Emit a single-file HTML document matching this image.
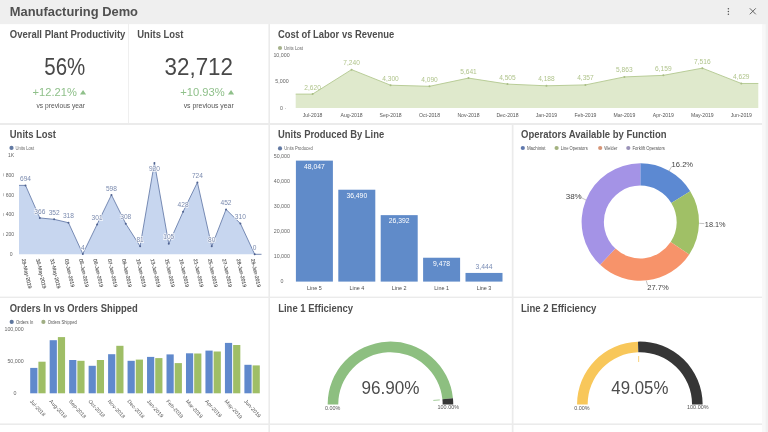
<!DOCTYPE html>
<html><head><meta charset="utf-8"><style>
html,body{margin:0;padding:0;width:768px;height:432px;overflow:hidden;background:#ebebeb;}
svg{display:block;will-change:transform;}
text{font-family:"Liberation Sans", sans-serif;}
</style></head><body>
<svg width="768" height="432" viewBox="0 0 768 432" font-family='"Liberation Sans", sans-serif'>
<rect x="0.00" y="0.00" width="768.00" height="432.00" fill="#ebebeb" />
<rect x="0.00" y="0.00" width="768.00" height="24.10" fill="#efefef" />
<text x="9.80" y="16.10" font-size="13.6" fill="#505050" font-weight="bold" textLength="128.20" lengthAdjust="spacingAndGlyphs">Manufacturing Demo</text>
<circle cx="728.4" cy="8.8" r="0.75" fill="#555"/>
<circle cx="728.4" cy="11.5" r="0.75" fill="#555"/>
<circle cx="728.4" cy="14.2" r="0.75" fill="#555"/>
<path d="M749.8 8.3 L755.8 14.3 M755.8 8.3 L749.8 14.3" stroke="#555" stroke-width="0.9"/>
<rect x="0.00" y="24.10" width="128.20" height="98.90" fill="#fff" />
<rect x="129.00" y="24.10" width="139.40" height="98.90" fill="#fff" />
<rect x="270.00" y="24.10" width="493.00" height="98.90" fill="#fff" />
<rect x="0.00" y="125.00" width="268.40" height="171.60" fill="#fff" />
<rect x="270.00" y="125.00" width="241.80" height="171.60" fill="#fff" />
<rect x="513.50" y="125.00" width="249.50" height="171.60" fill="#fff" />
<rect x="0.00" y="298.00" width="268.40" height="125.40" fill="#fff" />
<rect x="270.00" y="298.00" width="241.80" height="125.40" fill="#fff" />
<rect x="513.50" y="298.00" width="249.50" height="125.40" fill="#fff" />
<rect x="0.00" y="425.00" width="268.40" height="10.00" fill="#fff" />
<rect x="270.00" y="425.00" width="241.80" height="10.00" fill="#fff" />
<rect x="513.50" y="425.00" width="249.50" height="10.00" fill="#fff" />
<rect x="762.00" y="24.10" width="6.00" height="410.00" fill="#f8f8f8" />
<rect x="765.60" y="24.10" width="2.40" height="410.00" fill="#f0f0f0" />
<text x="9.80" y="37.80" font-size="10" fill="#4e4e4e" font-weight="bold" textLength="115.60" lengthAdjust="spacingAndGlyphs">Overall Plant Productivity</text>
<text x="137.30" y="37.80" font-size="10" fill="#4e4e4e" font-weight="bold" textLength="46.20" lengthAdjust="spacingAndGlyphs">Units Lost</text>
<text x="278.00" y="38.30" font-size="10" fill="#4e4e4e" font-weight="bold" textLength="116.30" lengthAdjust="spacingAndGlyphs">Cost of Labor vs Revenue</text>
<text x="44.30" y="74.80" font-size="24.3" fill="#484848" textLength="41.00" lengthAdjust="spacingAndGlyphs">56%</text>
<text x="32.60" y="95.60" font-size="11.5" fill="#8fc08a" textLength="44.20" lengthAdjust="spacingAndGlyphs">+12.21%</text>
<path d="M80 94.5 L83.05 90.1 L86.1 94.5 Z" fill="#8fc08a"/>
<text x="36.50" y="107.60" font-size="6.8" fill="#555" textLength="48.50" lengthAdjust="spacingAndGlyphs">vs previous year</text>
<text x="164.60" y="74.90" font-size="24.4" fill="#484848" textLength="68.40" lengthAdjust="spacingAndGlyphs">32,712</text>
<text x="180.20" y="95.60" font-size="11.5" fill="#8fc08a" textLength="44.50" lengthAdjust="spacingAndGlyphs">+10.93%</text>
<path d="M228 94.5 L231.05 90.1 L234.1 94.5 Z" fill="#8fc08a"/>
<text x="183.70" y="107.60" font-size="6.8" fill="#555" textLength="50.00" lengthAdjust="spacingAndGlyphs">vs previous year</text>
<circle cx="280" cy="48" r="2.1" fill="#a6b28c"/>
<text x="284.00" y="49.90" font-size="5" fill="#666" textLength="19.00" lengthAdjust="spacingAndGlyphs">Units Lost</text>
<text x="283.00" y="109.80" font-size="5.3" fill="#666" text-anchor="end">0</text>
<text x="288.60" y="83.30" font-size="5.3" fill="#666" text-anchor="end">5,000</text>
<text x="289.60" y="56.80" font-size="5.3" fill="#666" text-anchor="end">10,000</text>
<circle cx="285.6" cy="108.6" r="0.45" fill="#999"/>
<path d="M295.7,108.0 L295.7,94.11 L312.60,94.11 L351.57,69.63 L390.55,85.21 L429.52,86.32 L468.49,78.10 L507.46,84.12 L546.44,85.80 L585.41,84.91 L624.38,76.93 L663.35,75.36 L702.33,68.17 L741.30,83.47 L758.3,83.47 L758.3,108.0 Z" fill="#dfe9cc"/>
<path d="M295.7,94.11 L312.60,94.11 L351.57,69.63 L390.55,85.21 L429.52,86.32 L468.49,78.10 L507.46,84.12 L546.44,85.80 L585.41,84.91 L624.38,76.93 L663.35,75.36 L702.33,68.17 L741.30,83.47 L758.3,83.47" fill="none" stroke="#b9cd98" stroke-width="1"/>
<circle cx="312.60" cy="94.11" r="1" fill="#a9bd84"/>
<text x="312.60" y="89.61" font-size="6.6" fill="#b0c48c" text-anchor="middle">2,620</text>
<text x="312.60" y="116.70" font-size="5.1" fill="#555" text-anchor="middle">Jul-2018</text>
<circle cx="351.57" cy="69.63" r="1" fill="#a9bd84"/>
<text x="351.57" y="65.13" font-size="6.6" fill="#b0c48c" text-anchor="middle">7,240</text>
<text x="351.57" y="116.70" font-size="5.1" fill="#555" text-anchor="middle">Aug-2018</text>
<circle cx="390.55" cy="85.21" r="1" fill="#a9bd84"/>
<text x="390.55" y="80.71" font-size="6.6" fill="#b0c48c" text-anchor="middle">4,300</text>
<text x="390.55" y="116.70" font-size="5.1" fill="#555" text-anchor="middle">Sep-2018</text>
<circle cx="429.52" cy="86.32" r="1" fill="#a9bd84"/>
<text x="429.52" y="81.82" font-size="6.6" fill="#b0c48c" text-anchor="middle">4,090</text>
<text x="429.52" y="116.70" font-size="5.1" fill="#555" text-anchor="middle">Oct-2018</text>
<circle cx="468.49" cy="78.10" r="1" fill="#a9bd84"/>
<text x="468.49" y="73.60" font-size="6.6" fill="#b0c48c" text-anchor="middle">5,641</text>
<text x="468.49" y="116.70" font-size="5.1" fill="#555" text-anchor="middle">Nov-2018</text>
<circle cx="507.46" cy="84.12" r="1" fill="#a9bd84"/>
<text x="507.46" y="79.62" font-size="6.6" fill="#b0c48c" text-anchor="middle">4,505</text>
<text x="507.46" y="116.70" font-size="5.1" fill="#555" text-anchor="middle">Dec-2018</text>
<circle cx="546.44" cy="85.80" r="1" fill="#a9bd84"/>
<text x="546.44" y="81.30" font-size="6.6" fill="#b0c48c" text-anchor="middle">4,188</text>
<text x="546.44" y="116.70" font-size="5.1" fill="#555" text-anchor="middle">Jan-2019</text>
<circle cx="585.41" cy="84.91" r="1" fill="#a9bd84"/>
<text x="585.41" y="80.41" font-size="6.6" fill="#b0c48c" text-anchor="middle">4,357</text>
<text x="585.41" y="116.70" font-size="5.1" fill="#555" text-anchor="middle">Feb-2019</text>
<circle cx="624.38" cy="76.93" r="1" fill="#a9bd84"/>
<text x="624.38" y="72.43" font-size="6.6" fill="#b0c48c" text-anchor="middle">5,863</text>
<text x="624.38" y="116.70" font-size="5.1" fill="#555" text-anchor="middle">Mar-2019</text>
<circle cx="663.35" cy="75.36" r="1" fill="#a9bd84"/>
<text x="663.35" y="70.86" font-size="6.6" fill="#b0c48c" text-anchor="middle">6,159</text>
<text x="663.35" y="116.70" font-size="5.1" fill="#555" text-anchor="middle">Apr-2019</text>
<circle cx="702.33" cy="68.17" r="1" fill="#a9bd84"/>
<text x="702.33" y="63.67" font-size="6.6" fill="#b0c48c" text-anchor="middle">7,516</text>
<text x="702.33" y="116.70" font-size="5.1" fill="#555" text-anchor="middle">May-2019</text>
<circle cx="741.30" cy="83.47" r="1" fill="#a9bd84"/>
<text x="741.30" y="78.97" font-size="6.6" fill="#b0c48c" text-anchor="middle">4,629</text>
<text x="741.30" y="116.70" font-size="5.1" fill="#555" text-anchor="middle">Jun-2019</text>
<text x="9.80" y="138.00" font-size="10" fill="#4e4e4e" font-weight="bold" textLength="46.20" lengthAdjust="spacingAndGlyphs">Units Lost</text>
<text x="278.00" y="138.00" font-size="10" fill="#4e4e4e" font-weight="bold" textLength="106.20" lengthAdjust="spacingAndGlyphs">Units Produced By Line</text>
<text x="521.00" y="138.00" font-size="10" fill="#4e4e4e" font-weight="bold" textLength="145.60" lengthAdjust="spacingAndGlyphs">Operators Available by Function</text>
<circle cx="11.5" cy="147.9" r="2.1" fill="#637aa3"/>
<text x="15.60" y="149.60" font-size="4.8" fill="#666" textLength="18.50" lengthAdjust="spacingAndGlyphs">Units Lost</text>
<text x="14.20" y="156.80" font-size="5.1" fill="#666" text-anchor="end">1K</text>
<text x="14.20" y="176.66" font-size="5.1" fill="#666" text-anchor="end">800</text>
<rect x="3.40" y="173.36" width="0.60" height="3.00" fill="#999" />
<text x="14.20" y="196.52" font-size="5.1" fill="#666" text-anchor="end">600</text>
<rect x="3.40" y="193.22" width="0.60" height="3.00" fill="#999" />
<text x="14.20" y="216.38" font-size="5.1" fill="#666" text-anchor="end">400</text>
<rect x="3.40" y="213.08" width="0.60" height="3.00" fill="#999" />
<text x="14.20" y="236.24" font-size="5.1" fill="#666" text-anchor="end">200</text>
<rect x="3.40" y="232.94" width="0.60" height="3.00" fill="#999" />
<text x="12.60" y="256.10" font-size="5.1" fill="#666" text-anchor="end">0</text>
<path d="M19.0,254.3 L19.0,185.39 L25.50,185.39 L39.83,217.96 L54.15,219.35 L68.47,222.72 L82.80,253.90 L97.12,224.41 L111.45,194.92 L125.77,223.72 L140.10,246.26 L154.42,162.94 L168.75,243.87 L183.07,211.80 L197.40,182.41 L211.72,246.36 L226.05,209.42 L240.38,223.52 L254.70,254.30 L261.5,254.30 L261.5,254.3 Z" fill="#c7d6ef"/>
<path d="M19.0,185.39 L25.50,185.39 L39.83,217.96 L54.15,219.35 L68.47,222.72 L82.80,253.90 L97.12,224.41 L111.45,194.92 L125.77,223.72 L140.10,246.26 L154.42,162.94 L168.75,243.87 L183.07,211.80 L197.40,182.41 L211.72,246.36 L226.05,209.42 L240.38,223.52 L254.70,254.30 L261.5,254.30" fill="none" stroke="#6a7fab" stroke-width="0.9"/>
<circle cx="25.50" cy="185.39" r="1" fill="#4f6290"/>
<text x="25.50" y="180.99" font-size="6.6" fill="#7a8aae" text-anchor="middle" stroke="#fff" stroke-width="1.3" paint-order="stroke" stroke-opacity="0.85">694</text>
<circle cx="39.83" cy="217.96" r="1" fill="#4f6290"/>
<text x="39.83" y="213.56" font-size="6.6" fill="#7a8aae" text-anchor="middle" stroke="#fff" stroke-width="1.3" paint-order="stroke" stroke-opacity="0.85">366</text>
<circle cx="54.15" cy="219.35" r="1" fill="#4f6290"/>
<text x="54.15" y="214.95" font-size="6.6" fill="#7a8aae" text-anchor="middle" stroke="#fff" stroke-width="1.3" paint-order="stroke" stroke-opacity="0.85">352</text>
<circle cx="68.47" cy="222.72" r="1" fill="#4f6290"/>
<text x="68.47" y="218.32" font-size="6.6" fill="#7a8aae" text-anchor="middle" stroke="#fff" stroke-width="1.3" paint-order="stroke" stroke-opacity="0.85">318</text>
<circle cx="82.80" cy="253.90" r="1" fill="#4f6290"/>
<text x="82.80" y="249.50" font-size="6.6" fill="#7a8aae" text-anchor="middle" stroke="#fff" stroke-width="1.3" paint-order="stroke" stroke-opacity="0.85">4</text>
<circle cx="97.12" cy="224.41" r="1" fill="#4f6290"/>
<text x="97.12" y="220.01" font-size="6.6" fill="#7a8aae" text-anchor="middle" stroke="#fff" stroke-width="1.3" paint-order="stroke" stroke-opacity="0.85">301</text>
<circle cx="111.45" cy="194.92" r="1" fill="#4f6290"/>
<text x="111.45" y="190.52" font-size="6.6" fill="#7a8aae" text-anchor="middle" stroke="#fff" stroke-width="1.3" paint-order="stroke" stroke-opacity="0.85">598</text>
<circle cx="125.77" cy="223.72" r="1" fill="#4f6290"/>
<text x="125.77" y="219.32" font-size="6.6" fill="#7a8aae" text-anchor="middle" stroke="#fff" stroke-width="1.3" paint-order="stroke" stroke-opacity="0.85">308</text>
<circle cx="140.10" cy="246.26" r="1" fill="#4f6290"/>
<text x="140.10" y="241.86" font-size="6.6" fill="#7a8aae" text-anchor="middle" stroke="#fff" stroke-width="1.3" paint-order="stroke" stroke-opacity="0.85">81</text>
<circle cx="154.42" cy="162.94" r="1" fill="#4f6290"/>
<text x="154.42" y="171.44" font-size="6.6" fill="#7a8aae" text-anchor="middle" stroke="#fff" stroke-width="1.3" paint-order="stroke" stroke-opacity="0.85">920</text>
<circle cx="168.75" cy="243.87" r="1" fill="#4f6290"/>
<text x="168.75" y="239.47" font-size="6.6" fill="#7a8aae" text-anchor="middle" stroke="#fff" stroke-width="1.3" paint-order="stroke" stroke-opacity="0.85">105</text>
<circle cx="183.07" cy="211.80" r="1" fill="#4f6290"/>
<text x="183.07" y="207.40" font-size="6.6" fill="#7a8aae" text-anchor="middle" stroke="#fff" stroke-width="1.3" paint-order="stroke" stroke-opacity="0.85">428</text>
<circle cx="197.40" cy="182.41" r="1" fill="#4f6290"/>
<text x="197.40" y="178.01" font-size="6.6" fill="#7a8aae" text-anchor="middle" stroke="#fff" stroke-width="1.3" paint-order="stroke" stroke-opacity="0.85">724</text>
<circle cx="211.72" cy="246.36" r="1" fill="#4f6290"/>
<text x="211.72" y="241.96" font-size="6.6" fill="#7a8aae" text-anchor="middle" stroke="#fff" stroke-width="1.3" paint-order="stroke" stroke-opacity="0.85">80</text>
<circle cx="226.05" cy="209.42" r="1" fill="#4f6290"/>
<text x="226.05" y="205.02" font-size="6.6" fill="#7a8aae" text-anchor="middle" stroke="#fff" stroke-width="1.3" paint-order="stroke" stroke-opacity="0.85">452</text>
<circle cx="240.38" cy="223.52" r="1" fill="#4f6290"/>
<text x="240.38" y="219.12" font-size="6.6" fill="#7a8aae" text-anchor="middle" stroke="#fff" stroke-width="1.3" paint-order="stroke" stroke-opacity="0.85">310</text>
<circle cx="254.70" cy="254.30" r="1" fill="#4f6290"/>
<text x="254.70" y="249.90" font-size="6.6" fill="#7a8aae" text-anchor="middle" stroke="#fff" stroke-width="1.3" paint-order="stroke" stroke-opacity="0.85">0</text>
<text x="0" y="0" font-size="5.15" fill="#484848" stroke="#484848" stroke-width="0.08" transform="translate(21.70,259.30) rotate(77)">29-May-2019</text>
<text x="0" y="0" font-size="5.15" fill="#484848" stroke="#484848" stroke-width="0.08" transform="translate(36.03,259.30) rotate(77)">30-May-2019</text>
<text x="0" y="0" font-size="5.15" fill="#484848" stroke="#484848" stroke-width="0.08" transform="translate(50.35,259.30) rotate(77)">31-May-2019</text>
<text x="0" y="0" font-size="5.15" fill="#484848" stroke="#484848" stroke-width="0.08" transform="translate(64.67,259.30) rotate(77)">03-Jun-2019</text>
<text x="0" y="0" font-size="5.15" fill="#484848" stroke="#484848" stroke-width="0.08" transform="translate(79.00,259.30) rotate(77)">05-Jun-2019</text>
<text x="0" y="0" font-size="5.15" fill="#484848" stroke="#484848" stroke-width="0.08" transform="translate(93.33,259.30) rotate(77)">06-Jun-2019</text>
<text x="0" y="0" font-size="5.15" fill="#484848" stroke="#484848" stroke-width="0.08" transform="translate(107.65,259.30) rotate(77)">07-Jun-2019</text>
<text x="0" y="0" font-size="5.15" fill="#484848" stroke="#484848" stroke-width="0.08" transform="translate(121.97,259.30) rotate(77)">09-Jun-2019</text>
<text x="0" y="0" font-size="5.15" fill="#484848" stroke="#484848" stroke-width="0.08" transform="translate(136.30,259.30) rotate(77)">10-Jun-2019</text>
<text x="0" y="0" font-size="5.15" fill="#484848" stroke="#484848" stroke-width="0.08" transform="translate(150.62,259.30) rotate(77)">13-Jun-2019</text>
<text x="0" y="0" font-size="5.15" fill="#484848" stroke="#484848" stroke-width="0.08" transform="translate(164.95,259.30) rotate(77)">15-Jun-2019</text>
<text x="0" y="0" font-size="5.15" fill="#484848" stroke="#484848" stroke-width="0.08" transform="translate(179.27,259.30) rotate(77)">16-Jun-2019</text>
<text x="0" y="0" font-size="5.15" fill="#484848" stroke="#484848" stroke-width="0.08" transform="translate(193.60,259.30) rotate(77)">21-Jun-2019</text>
<text x="0" y="0" font-size="5.15" fill="#484848" stroke="#484848" stroke-width="0.08" transform="translate(207.92,259.30) rotate(77)">25-Jun-2019</text>
<text x="0" y="0" font-size="5.15" fill="#484848" stroke="#484848" stroke-width="0.08" transform="translate(222.25,259.30) rotate(77)">27-Jun-2019</text>
<text x="0" y="0" font-size="5.15" fill="#484848" stroke="#484848" stroke-width="0.08" transform="translate(236.57,259.30) rotate(77)">28-Jun-2019</text>
<text x="0" y="0" font-size="5.15" fill="#484848" stroke="#484848" stroke-width="0.08" transform="translate(250.90,259.30) rotate(77)">29-Jun-2019</text>
<circle cx="280" cy="148.4" r="2.1" fill="#637aa3"/>
<text x="284.30" y="150.10" font-size="4.8" fill="#666" textLength="28.50" lengthAdjust="spacingAndGlyphs">Units Produced</text>
<text x="283.40" y="283.40" font-size="5.3" fill="#666" text-anchor="end">0</text>
<text x="289.90" y="258.22" font-size="5.3" fill="#666" text-anchor="end">10,000</text>
<text x="289.90" y="233.04" font-size="5.3" fill="#666" text-anchor="end">20,000</text>
<text x="289.90" y="207.86" font-size="5.3" fill="#666" text-anchor="end">30,000</text>
<text x="289.90" y="182.68" font-size="5.3" fill="#666" text-anchor="end">40,000</text>
<text x="289.90" y="157.50" font-size="5.3" fill="#666" text-anchor="end">50,000</text>
<rect x="295.90" y="160.62" width="37.00" height="120.98" fill="#608bc9" />
<text x="314.40" y="168.62" font-size="6.8" fill="#fff" text-anchor="middle">48,047</text>
<text x="314.40" y="290.30" font-size="5.4" fill="#4a4a4a" text-anchor="middle">Line 5</text>
<rect x="338.30" y="189.72" width="37.00" height="91.88" fill="#608bc9" />
<text x="356.80" y="197.72" font-size="6.8" fill="#fff" text-anchor="middle">36,490</text>
<text x="356.80" y="290.30" font-size="5.4" fill="#4a4a4a" text-anchor="middle">Line 4</text>
<rect x="380.70" y="215.14" width="37.00" height="66.46" fill="#608bc9" />
<text x="399.20" y="223.14" font-size="6.8" fill="#fff" text-anchor="middle">26,392</text>
<text x="399.20" y="290.30" font-size="5.4" fill="#4a4a4a" text-anchor="middle">Line 2</text>
<rect x="423.10" y="257.73" width="37.00" height="23.87" fill="#608bc9" />
<text x="441.60" y="265.73" font-size="6.8" fill="#fff" text-anchor="middle">9,478</text>
<text x="441.60" y="290.30" font-size="5.4" fill="#4a4a4a" text-anchor="middle">Line 1</text>
<rect x="465.50" y="272.93" width="37.00" height="8.67" fill="#608bc9" />
<text x="484.00" y="268.93" font-size="6.8" fill="#7a8db5" text-anchor="middle">3,444</text>
<text x="484.00" y="290.30" font-size="5.4" fill="#4a4a4a" text-anchor="middle">Line 3</text>
<path d="M640.30,163.30 A58.7,58.7 0 0 1 690.25,191.17 L671.28,202.88 A36.4,36.4 0 0 0 640.30,185.60 Z" fill="#5c89d2"/>
<path d="M690.25,191.17 A58.7,58.7 0 0 1 689.26,254.38 L670.66,242.08 A36.4,36.4 0 0 0 671.28,202.88 Z" fill="#a0c066"/>
<path d="M689.26,254.38 A58.7,58.7 0 0 1 600.12,264.79 L615.38,248.53 A36.4,36.4 0 0 0 670.66,242.08 Z" fill="#f7936a"/>
<path d="M600.12,264.79 A58.7,58.7 0 0 1 640.30,163.30 L640.30,185.60 A36.4,36.4 0 0 0 615.38,248.53 Z" fill="#a493e6"/>
<circle cx="522.8" cy="148" r="2.1" fill="#5f78ad"/>
<text x="526.90" y="149.70" font-size="4.8" fill="#555" textLength="18.60" lengthAdjust="spacingAndGlyphs">Machinist</text>
<circle cx="556.6" cy="148" r="2.1" fill="#a3b27f"/>
<text x="560.70" y="149.70" font-size="4.8" fill="#555" textLength="27.00" lengthAdjust="spacingAndGlyphs">Line Operators</text>
<circle cx="600.2" cy="148" r="2.1" fill="#d69577"/>
<text x="604.30" y="149.70" font-size="4.8" fill="#555" textLength="13.00" lengthAdjust="spacingAndGlyphs">Welder</text>
<circle cx="628.3" cy="148" r="2.1" fill="#9a92b8"/>
<text x="632.40" y="149.70" font-size="4.8" fill="#555" textLength="32.60" lengthAdjust="spacingAndGlyphs">Forklift Operators</text>
<text x="671.60" y="166.60" font-size="8" fill="#444" textLength="21.50" lengthAdjust="spacingAndGlyphs">16.2%</text>
<text x="704.80" y="227.40" font-size="8" fill="#444" textLength="20.80" lengthAdjust="spacingAndGlyphs">18.1%</text>
<text x="647.20" y="290.00" font-size="8" fill="#444" textLength="21.50" lengthAdjust="spacingAndGlyphs">27.7%</text>
<text x="565.70" y="199.40" font-size="8" fill="#444">38%</text>
<path d="M668.6,171.6 L671.8,166.4" stroke="#888" stroke-width="0.5" fill="none"/>
<path d="M699.2,223.3 L704.3,223.6" stroke="#888" stroke-width="0.5" fill="none"/>
<path d="M646.2,280.6 L647.6,285" stroke="#888" stroke-width="0.5" fill="none"/>
<path d="M580,197 L586,200" stroke="#888" stroke-width="0.5" fill="none"/>
<text x="9.80" y="312.20" font-size="10" fill="#4e4e4e" font-weight="bold" textLength="128.00" lengthAdjust="spacingAndGlyphs">Orders In vs Orders Shipped</text>
<text x="278.20" y="312.00" font-size="10" fill="#4e4e4e" font-weight="bold" textLength="74.90" lengthAdjust="spacingAndGlyphs">Line 1 Efficiency</text>
<text x="521.00" y="311.80" font-size="10" fill="#4e4e4e" font-weight="bold" textLength="75.40" lengthAdjust="spacingAndGlyphs">Line 2 Efficiency</text>
<circle cx="11.7" cy="321.9" r="2.1" fill="#5f779e"/>
<text x="15.90" y="323.60" font-size="4.7" fill="#555" textLength="17.40" lengthAdjust="spacingAndGlyphs">Orders In</text>
<circle cx="43.4" cy="321.9" r="2.1" fill="#a0ae84"/>
<text x="47.70" y="323.60" font-size="4.7" fill="#555" textLength="29.10" lengthAdjust="spacingAndGlyphs">Orders Shipped</text>
<text x="16.40" y="395.10" font-size="5.3" fill="#666" text-anchor="end">0</text>
<text x="23.60" y="362.80" font-size="5.3" fill="#666" text-anchor="end">50,000</text>
<text x="23.60" y="330.50" font-size="5.3" fill="#666" text-anchor="end">100,000</text>
<rect x="30.20" y="367.90" width="7.20" height="25.40" fill="#6089cc" />
<rect x="38.40" y="361.70" width="7.20" height="31.60" fill="#9fbe66" />
<text x="0" y="0" font-size="5.3" fill="#555" transform="translate(29.60,401.60) rotate(48)">Jul-2018</text>
<rect x="49.67" y="340.20" width="7.20" height="53.10" fill="#6089cc" />
<rect x="57.87" y="337.10" width="7.20" height="56.20" fill="#9fbe66" />
<text x="0" y="0" font-size="5.3" fill="#555" transform="translate(49.07,401.60) rotate(48)">Aug-2018</text>
<rect x="69.15" y="360.00" width="7.20" height="33.30" fill="#6089cc" />
<rect x="77.35" y="360.80" width="7.20" height="32.50" fill="#9fbe66" />
<text x="0" y="0" font-size="5.3" fill="#555" transform="translate(68.55,401.60) rotate(48)">Sep-2018</text>
<rect x="88.62" y="365.80" width="7.20" height="27.50" fill="#6089cc" />
<rect x="96.82" y="360.00" width="7.20" height="33.30" fill="#9fbe66" />
<text x="0" y="0" font-size="5.3" fill="#555" transform="translate(88.02,401.60) rotate(48)">Oct-2018</text>
<rect x="108.09" y="354.20" width="7.20" height="39.10" fill="#6089cc" />
<rect x="116.29" y="345.80" width="7.20" height="47.50" fill="#9fbe66" />
<text x="0" y="0" font-size="5.3" fill="#555" transform="translate(107.49,401.60) rotate(48)">Nov-2018</text>
<rect x="127.56" y="360.80" width="7.20" height="32.50" fill="#6089cc" />
<rect x="135.76" y="359.60" width="7.20" height="33.70" fill="#9fbe66" />
<text x="0" y="0" font-size="5.3" fill="#555" transform="translate(126.96,401.60) rotate(48)">Dec-2018</text>
<rect x="147.04" y="356.90" width="7.20" height="36.40" fill="#6089cc" />
<rect x="155.24" y="358.10" width="7.20" height="35.20" fill="#9fbe66" />
<text x="0" y="0" font-size="5.3" fill="#555" transform="translate(146.44,401.60) rotate(48)">Jan-2019</text>
<rect x="166.51" y="354.40" width="7.20" height="38.90" fill="#6089cc" />
<rect x="174.71" y="363.10" width="7.20" height="30.20" fill="#9fbe66" />
<text x="0" y="0" font-size="5.3" fill="#555" transform="translate(165.91,401.60) rotate(48)">Feb-2019</text>
<rect x="185.98" y="353.30" width="7.20" height="40.00" fill="#6089cc" />
<rect x="194.18" y="353.50" width="7.20" height="39.80" fill="#9fbe66" />
<text x="0" y="0" font-size="5.3" fill="#555" transform="translate(185.38,401.60) rotate(48)">Mar-2019</text>
<rect x="205.45" y="350.60" width="7.20" height="42.70" fill="#6089cc" />
<rect x="213.65" y="351.50" width="7.20" height="41.80" fill="#9fbe66" />
<text x="0" y="0" font-size="5.3" fill="#555" transform="translate(204.85,401.60) rotate(48)">Apr-2019</text>
<rect x="224.93" y="342.90" width="7.20" height="50.40" fill="#6089cc" />
<rect x="233.13" y="345.00" width="7.20" height="48.30" fill="#9fbe66" />
<text x="0" y="0" font-size="5.3" fill="#555" transform="translate(224.33,401.60) rotate(48)">May-2019</text>
<rect x="244.40" y="364.80" width="7.20" height="28.50" fill="#6089cc" />
<rect x="252.60" y="365.40" width="7.20" height="27.90" fill="#9fbe66" />
<text x="0" y="0" font-size="5.3" fill="#555" transform="translate(243.80,401.60) rotate(48)">Jun-2019</text>
<path d="M327.65,404.40 A62.8,62.8 0 0 1 452.95,398.29 L442.40,399.32 A52.2,52.2 0 0 0 338.25,404.40 Z" fill="#8dbf80"/>
<path d="M452.95,398.29 A62.8,62.8 0 0 1 453.25,404.40 L442.65,404.40 A52.2,52.2 0 0 0 442.40,399.32 Z" fill="#363636"/>
<path d="M433.32,400.43 L439.80,399.92" stroke="#8dbf80" stroke-width="0.8"/>
<text x="390.45" y="394.10" font-size="19.2" fill="#4c4c4c" text-anchor="middle" textLength="58.00" lengthAdjust="spacingAndGlyphs">96.90%</text>
<text x="332.60" y="409.60" font-size="5.5" fill="#555" text-anchor="middle" textLength="15.40" lengthAdjust="spacingAndGlyphs">0.00%</text>
<text x="448.30" y="409.40" font-size="5.5" fill="#555" text-anchor="middle" textLength="21.50" lengthAdjust="spacingAndGlyphs">100.00%</text>
<path d="M577.05,404.40 A62.8,62.8 0 0 1 637.98,341.63 L638.29,352.22 A52.2,52.2 0 0 0 587.65,404.40 Z" fill="#f8c75a"/>
<path d="M637.98,341.63 A62.8,62.8 0 0 1 702.65,404.40 L692.05,404.40 A52.2,52.2 0 0 0 638.29,352.22 Z" fill="#363636"/>
<path d="M638.65,356.00 L638.65,362.00" stroke="#f8c75a" stroke-width="0.8"/>
<text x="639.85" y="393.90" font-size="19.2" fill="#4c4c4c" text-anchor="middle" textLength="57.10" lengthAdjust="spacingAndGlyphs">49.05%</text>
<text x="582.00" y="409.60" font-size="5.5" fill="#555" text-anchor="middle" textLength="15.40" lengthAdjust="spacingAndGlyphs">0.00%</text>
<text x="697.80" y="409.40" font-size="5.5" fill="#555" text-anchor="middle" textLength="21.50" lengthAdjust="spacingAndGlyphs">100.00%</text>
</svg>
</body></html>
